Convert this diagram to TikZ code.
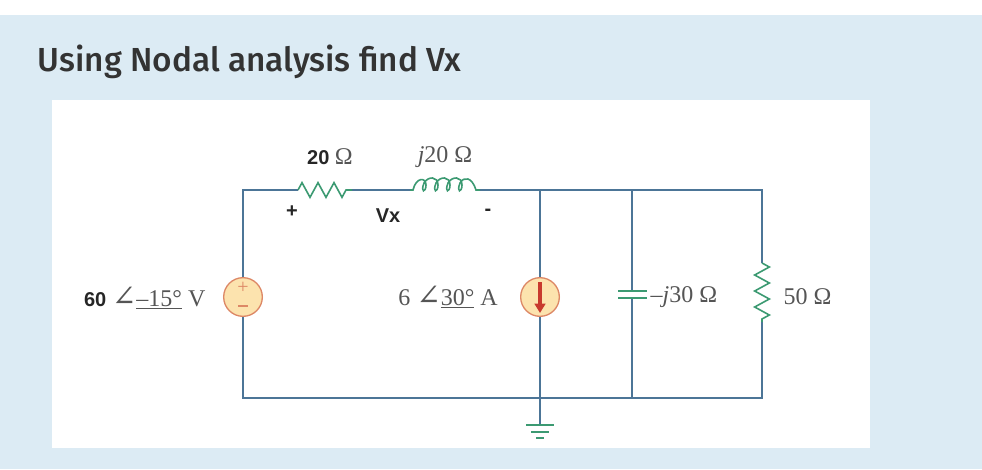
\documentclass[tikz,border=0pt]{standalone}
\usepackage{fontspec}
\setmainfont{Liberation Serif}
\setsansfont{Liberation Sans}
\newfontfamily\titlefont{Fira Sans}[UprightFont={* Medium}]
\newfontfamily\symfont{DejaVu Serif}
\usetikzlibrary{decorations.pathmorphing,arrows.meta}
\definecolor{bg}{HTML}{DCEBF4}
\definecolor{wire}{HTML}{4C7597}
\definecolor{grn}{HTML}{3C9A72}
\definecolor{srcfill}{HTML}{FCE3AE}
\definecolor{srcline}{HTML}{DD8866}
\definecolor{arr}{HTML}{C83A2E}
\definecolor{txt}{HTML}{555555}
\newcommand{\ang}[1]{{\symfont\fontsize{22}{22}\selectfont\char"2220}\underline{#1}}
\begin{document}
\begin{tikzpicture}[x=0.75pt,y=-0.75pt,
  wr/.style={draw=wire,line width=1.4pt},
  gw/.style={draw=grn,line width=1.2pt},
  src/.style={circle,draw=srcline,fill=srcfill,line width=1pt,minimum size=29pt,inner sep=0pt},
  lbl/.style={font=\fontsize{18}{20}\selectfont,text=txt,inner sep=1pt},
  slbl/.style={font=\sffamily\bfseries\fontsize{15}{17}\selectfont,text=black!85,inner sep=1pt}]
\fill[bg] (0,0) rectangle (982,469);
\fill[white] (0,0) rectangle (982,15);
\fill[bg] (0,17) rectangle (982,469);
\node[anchor=west,font=\titlefont\fontsize{25}{28}\selectfont,text=black!80] (title) at (33,62) {Using Nodal analysis find Vx};
\fill[white] (52,100) rectangle (870,448);
% coordinates
\coordinate (tl) at (243,190); \coordinate (bl) at (243,398);
\coordinate (r1a) at (298,190); \coordinate (r1b) at (352,190);
\coordinate (l1a) at (410,190); \coordinate (l1b) at (480,190);
\coordinate (n1) at (540,190); \coordinate (n2) at (632,190); \coordinate (n3) at (762,190);
\coordinate (b1) at (540,398); \coordinate (b2) at (632,398); \coordinate (b3) at (762,398);
\coordinate (r2a) at (762,263); \coordinate (r2b) at (762,322);
\coordinate (ca) at (632,291); \coordinate (cb) at (632,298);
\coordinate (g) at (540,425);
\node[src] (vs) at (243,297) {};
\node[src] (cs) at (540,297) {};
% wires
\draw[wr] (vs.north) -- (tl) -- (r1a);
\draw[wr] (r1b) -- (l1a);
\draw[wr] (l1b) -- (n3) -- (r2a);
\draw[wr] (r2b) -- (b3) -- (bl) -- (vs.south);
\draw[wr] (n1) -- (cs.north); \draw[wr] (cs.south) -- (g);
\draw[wr] (n2) -- (ca); \draw[wr] (cb) -- (b2);
% components
\draw[gw,decorate,decoration={zigzag,segment length=12,amplitude=5.5}] (r1a) -- (r1b);
\draw[gw,decorate,decoration={zigzag,segment length=12,amplitude=5.5}] (r2a) -- (r2b);
\draw[gw] (l1a) -- (413,190) .. controls (416,177) and (426,177) .. (426,185)
  .. controls (426,193) and (420,193) .. (424,183) .. controls (428,176) and (438,176) .. (438,185)
  .. controls (438,193) and (432,193) .. (436,183) .. controls (440,176) and (450,176) .. (450,185)
  .. controls (450,193) and (444,193) .. (448,183) .. controls (452,176) and (462,176) .. (462,185)
  .. controls (462,193) and (456,193) .. (460,183) .. controls (464,176) and (472,177) .. (476,190) -- (l1b);
\draw[gw] (618,291) -- (647,291); \draw[gw] (618,298) -- (647,298);
\draw[gw] (526,425) -- (554,425); \draw[gw] (531,432) -- (549,432); \draw[gw] (536,438) -- (544,438);
% source symbols
\node[text=srcline,font=\fontsize{15}{15}\selectfont,inner sep=0] at (243,288) {+};
\draw[srcline,line width=1pt] (238,306) -- (248,306);
\draw[arr,line width=2.4pt,-{Triangle[length=7pt,width=8pt]}] (540,282) -- (540,313);
% labels
\node[slbl] (l20) at (330,157) {20 {\rmfamily\mdseries\fontsize{18}{20}\selectfont\color{txt}Ω}};
\node[lbl] (lj20) at (445,157) {\textit{j}20 Ω};
\node[slbl] (plus) at (292,212) {+};
\node[slbl] (vx) at (388,216) {Vx};
\node[slbl] (minus) at (488,212) {-};
\node[slbl,anchor=east] (lv) at (207,298) {60 {\rmfamily\mdseries\fontsize{18}{20}\selectfont\color{txt}\ang{–15°} V}};
\node[lbl] (li) at (448,297) {6 \ang{30°} A};
\node[lbl,anchor=west] (lc) at (649,297) {–\textit{j}30 Ω};
\node[lbl,anchor=west] (lr) at (782,297) {50 Ω};
\end{tikzpicture}
\end{document}
